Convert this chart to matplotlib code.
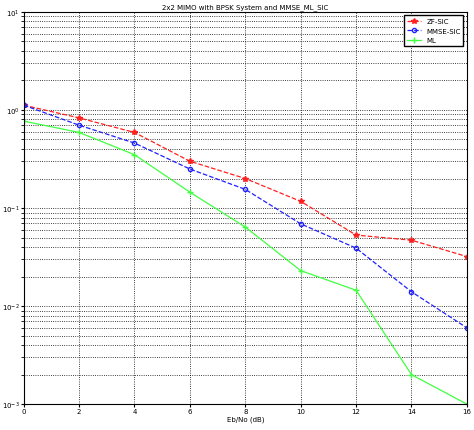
import matplotlib
matplotlib.use("Agg")
import matplotlib.pyplot as plt

snr = [0, 2, 4, 6, 8, 10, 12, 14, 16]
zf_sic = [1.12, 0.83, 0.59, 0.30, 0.20, 0.117, 0.053, 0.047, 0.032]
mmse_sic = [1.12, 0.70, 0.46, 0.25, 0.155, 0.069, 0.039, 0.014, 0.006]
ml = [0.77, 0.59, 0.35, 0.145, 0.064, 0.023, 0.0145, 0.002, 0.001]

fig = plt.figure(figsize=(4.74, 4.31), dpi=100)
ax = fig.add_axes([0.05, 0.06, 0.935, 0.91])
ax.semilogy(snr, zf_sic, '--', color='#ff2020', marker='*', ms=4, lw=0.9, label='ZF-SIC')
ax.semilogy(snr, mmse_sic, '--', color='#2020ff', marker='o', ms=3, mfc='none', lw=0.9, label='MMSE-SIC')
ax.semilogy(snr, ml, '-', color='#40ff40', marker='+', ms=4, lw=0.9, label='ML')
ax.set_xlim(0, 16)
ax.set_ylim(1e-3, 10)
ax.set_xticks(range(0, 17, 2))
ax.grid(True, which='both', axis='y', ls=':', color='k', lw=0.6)
ax.grid(True, which='major', axis='x', ls=':', color='k', lw=0.6)
ax.tick_params(labelsize=5, length=2, pad=1)
ax.set_xlabel('Eb/No (dB)', fontsize=5, labelpad=1)
ax.set_ylabel('BER', fontsize=5, labelpad=0)
ax.set_title('2x2 MIMO with BPSK System and MMSE_ML_SIC', fontsize=5, pad=3)
leg = ax.legend(loc='upper right', fontsize=5, fancybox=False, edgecolor='k', framealpha=1)
fig.savefig('out.png', dpi=100)
